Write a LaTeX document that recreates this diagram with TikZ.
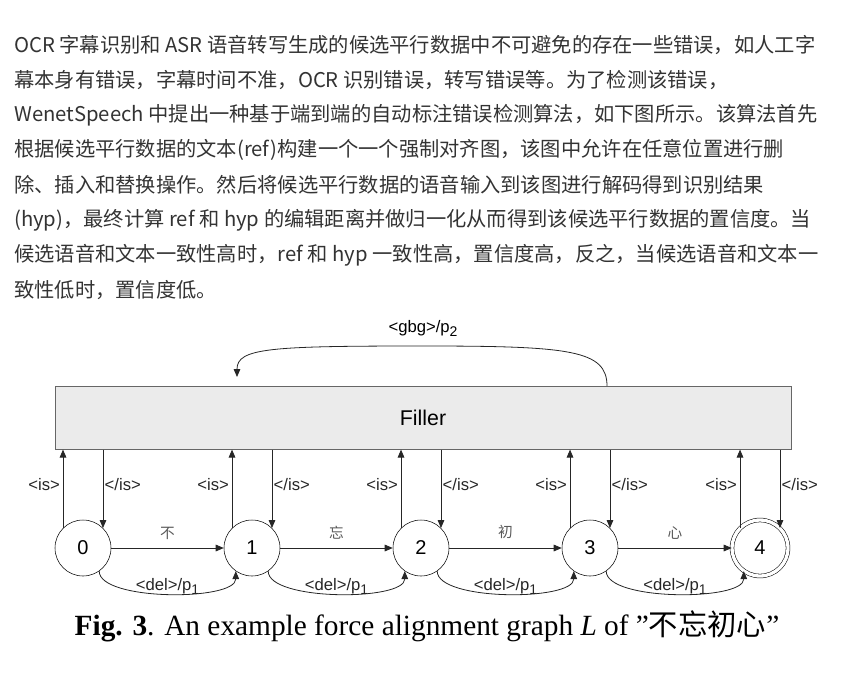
\documentclass[tikz,border=0pt]{standalone}
\usepackage{fontspec}
\setmainfont{Liberation Serif}
\newfontfamily\cjk{Noto Sans CJK SC}
\newfontfamily\arial{Liberation Sans}
\usetikzlibrary{arrows.meta,calc}
\newcommand\mysub[1]{\raisebox{-3pt}{\fontsize{10.5}{12}\selectfont #1}}
\begin{document}
\begin{tikzpicture}[x=0.75pt,y=-0.75pt,
  para/.style={anchor=west,inner sep=0,font=\cjk\fontsize{15.2}{17}\selectfont,text=black!80},
  st/.style={circle,draw,minimum size=42pt,inner sep=0,font=\arial\fontsize{15}{17}\selectfont},
  lbl/.style={font=\arial\fontsize{12.5}{14}\selectfont,inner sep=1pt},
  arr/.style={-{Triangle[length=6pt,width=5pt]},line width=0.6pt,black!85},
  ch/.style={font=\cjk\fontsize{11}{13}\selectfont,text=black!65}]
\useasboundingbox (0,0) rectangle (856,678);
\node[para] (l1) at (14,45) {OCR 字幕识别和 ASR 语音转写生成的候选平行数据中不可避免的存在一些错误，如人工字};
\node[para] (l2) at (14,80) {幕本身有错误，字幕时间不准，OCR 识别错误，转写错误等。为了检测该错误，};
\node[para] (l3) at (14,115) {WenetSpeech 中提出一种基于端到端的自动标注错误检测算法，如下图所示。该算法首先};
\node[para] (l4) at (14,150) {根据候选平行数据的文本(ref)构建一个一个强制对齐图，该图中允许在任意位置进行删};
\node[para] (l5) at (14,185) {除、插入和替换操作。然后将候选平行数据的语音输入到该图进行解码得到识别结果};
\node[para] (l6) at (14,220) {(hyp)，最终计算 ref 和 hyp 的编辑距离并做归一化从而得到该候选平行数据的置信度。当};
\node[para] (l7) at (14,255) {候选语音和文本一致性高时，ref 和 hyp 一致性高，置信度高，反之，当候选语音和文本一};
\node[para] (l8) at (14,290) {致性低时，置信度低。};

\node[draw=black!60,fill=black!8,minimum width=552pt,minimum height=47pt,inner sep=0,
  font=\arial\fontsize{16}{18}\selectfont] (F) at (423,418) {Filler};

\node[st] (s0) at (83,548) {0};
\node[st] (s1) at (252,548) {1};
\node[st] (s2) at (421,548) {2};
\node[st] (s3) at (590,548) {3};
\node[st,double,double distance=2.5pt] (s4) at (760,548) {4};

\foreach \a/\b/\c in {s0/s1/不,s1/s2/忘,s2/s3/初,s3/s4/心}{
  \draw[arr] (\a) -- node[ch,above=3pt]{\c} (\b);
  \draw[arr] (\a.-55) .. controls +(0,30) and +(0,30) .. node[lbl,above=-2pt,pos=0.5] {<del>/p\mysub{1}} (\b.-125);
}
\foreach \s in {s0,s1,s2,s3,s4}{
  \draw[arr] (\s.135) -- node[lbl,left=1pt,pos=0.55] {<is>} (\s.135 |- F.south);
  \draw[arr] (\s.45 |- F.south) -- node[lbl,right=0pt,pos=0.45] {</is>} (\s.45);
}
\coordinate (gs) at (607,386);
\coordinate (ge) at (237,377);
\draw[arr] (gs) .. controls (607,350) and (570,346) .. (423,346) .. controls (270,346) and (237,348) .. (ge);
\node[lbl] (gl) at (423,328) {<gbg>/p\mysub{2}};

\node[font=\fontsize{22}{24}\selectfont] (cap) at (427,626) {\textbf{Fig. 3}. An example force alignment graph \textit{L} of ”{\cjk 不忘初心}”};
\end{tikzpicture}
\end{document}
